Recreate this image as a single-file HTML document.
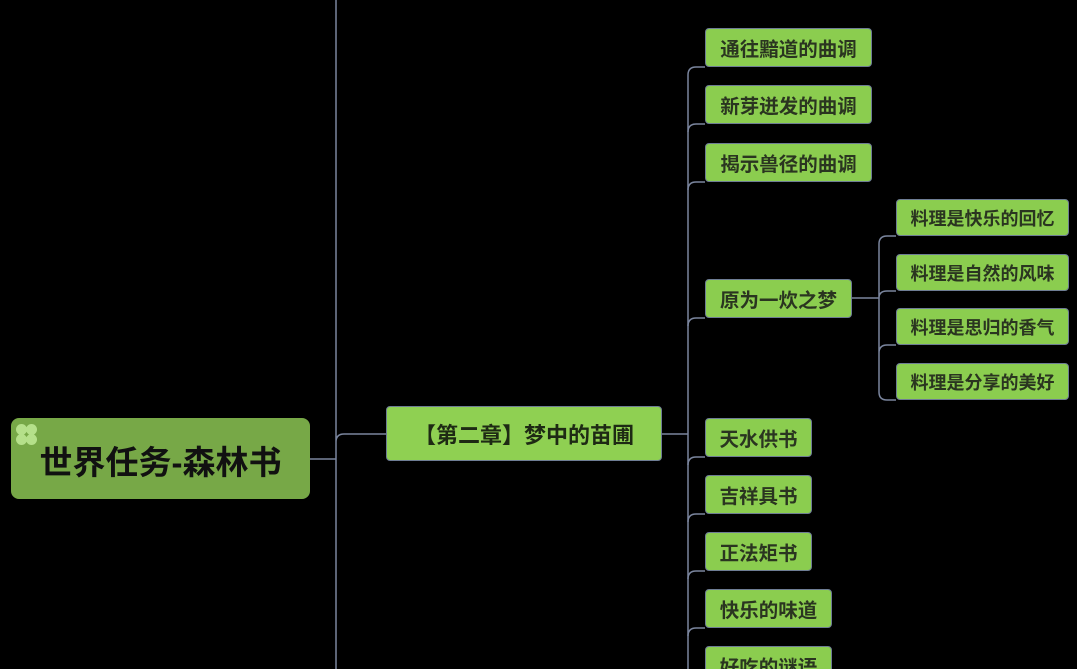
<!DOCTYPE html>
<html><head><meta charset="utf-8"><style>
html,body{margin:0;padding:0;background:#000;width:1077px;height:669px;overflow:hidden;position:relative}
.b{position:absolute;box-sizing:border-box;background:#8bcd4f;border:1.5px solid #6e7d94;border-radius:4px;color:#2a3520;font:bold 19.5px "Liberation Sans","Noto Sans CJK SC",sans-serif;display:flex;align-items:center;justify-content:center;white-space:nowrap}
svg{position:absolute;left:0;top:0}
</style></head><body>
<svg width="1077" height="669" fill="none" stroke="#7a859e" stroke-width="1.5">
<path d="M310 459 H336 M336 0 V669 M336 442 Q336 434 344 434 H386"/>
<path d="M662 434 H688 M688 669 V75 Q688 67 696 67 H705"/>
<path d="M688 132 Q688 124 696 124 H705 M688 190 Q688 182 696 182 H705 M688 326 Q688 318 696 318 H705 M688 465 Q688 457 696 457 H705 M688 522 Q688 514 696 514 H705 M688 579 Q688 571 696 571 H705 M688 636 Q688 628 696 628 H705"/>
<path d="M852 298 H879 M879 244 Q879 236 887 236 H896 M879 244 V392 Q879 400 887 400 H896 M879 298 Q879 291 887 291 H896 M879 353 Q879 345 887 345 H896"/>
</svg>
<div class="b" style="left:11px;top:418px;width:299px;height:81px;background:#77a847;border-color:#77a847;border-radius:8px;font-size:33px;color:#111;padding-top:2px">世界任务-森林书</div>
<div style="position:absolute;left:15px;top:424px;width:24px;height:24px">
<div style="position:absolute;left:1px;top:0;width:11px;height:11px;border-radius:50%;background:#b5e08a"></div>
<div style="position:absolute;left:11px;top:0;width:11px;height:11px;border-radius:50%;background:#b5e08a"></div>
<div style="position:absolute;left:1px;top:10px;width:11px;height:11px;border-radius:50%;background:#b5e08a"></div>
<div style="position:absolute;left:11px;top:10px;width:11px;height:11px;border-radius:50%;background:#b5e08a"></div>
</div>
<div class="b" style="left:386px;top:406px;width:276px;height:55px;background:#8fd052;font-size:22px;color:#1e2a14">【第二章】梦中的苗圃</div>
<div class="b" style="left:705px;top:28px;width:167px;height:39px">通往黯道的曲调</div>
<div class="b" style="left:705px;top:85px;width:167px;height:39px">新芽迸发的曲调</div>
<div class="b" style="left:705px;top:143px;width:167px;height:39px">揭示兽径的曲调</div>
<div class="b" style="left:705px;top:279px;width:147px;height:39px">原为一炊之梦</div>
<div class="b" style="left:896px;top:199px;width:173px;height:37px;font-size:18px">料理是快乐的回忆</div>
<div class="b" style="left:896px;top:254px;width:173px;height:37px;font-size:18px">料理是自然的风味</div>
<div class="b" style="left:896px;top:308px;width:173px;height:37px;font-size:18px">料理是思归的香气</div>
<div class="b" style="left:896px;top:363px;width:173px;height:37px;font-size:18px">料理是分享的美好</div>
<div class="b" style="left:705px;top:418px;width:107px;height:39px">天水供书</div>
<div class="b" style="left:705px;top:475px;width:107px;height:39px">吉祥具书</div>
<div class="b" style="left:705px;top:532px;width:107px;height:39px">正法矩书</div>
<div class="b" style="left:705px;top:589px;width:127px;height:39px">快乐的味道</div>
<div class="b" style="left:705px;top:646px;width:127px;height:39px">好吃的谜语</div>
</body></html>
